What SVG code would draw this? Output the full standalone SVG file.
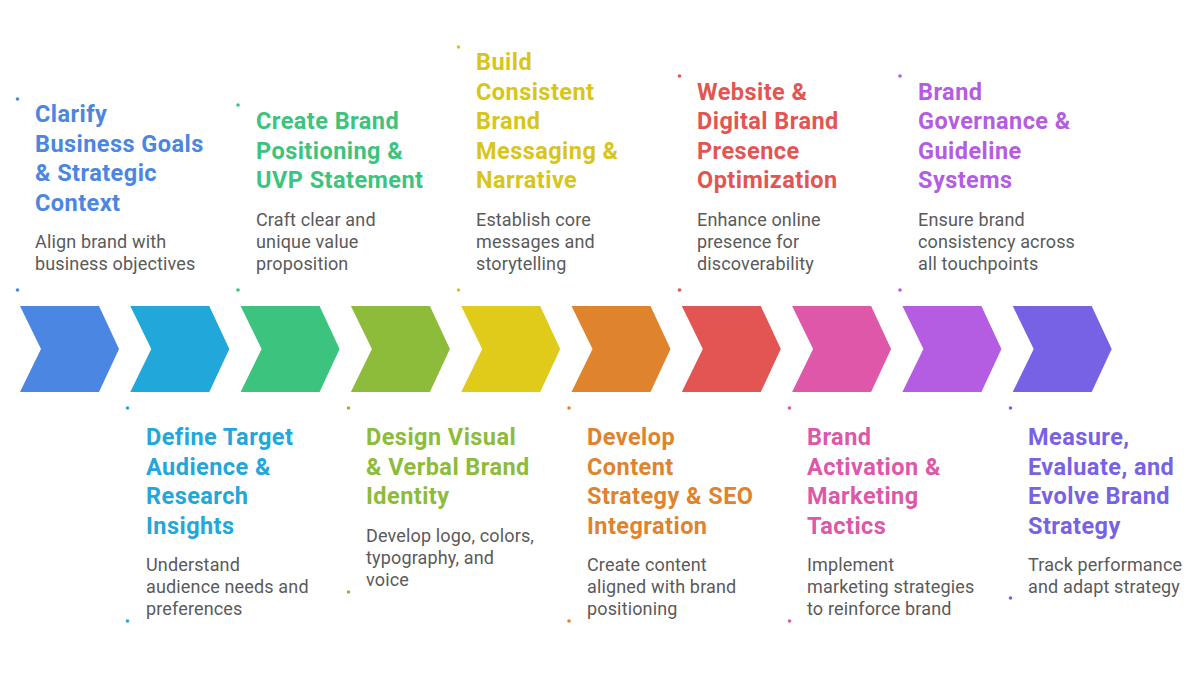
<svg xmlns="http://www.w3.org/2000/svg" width="1200" height="675" viewBox="0 0 1200 675">
<style>
.t{font-family:Roboto,"Liberation Sans",sans-serif;font-weight:700;font-size:23.5px;letter-spacing:0.45px}
.d{font-family:Roboto,"Liberation Sans",sans-serif;font-size:18px;letter-spacing:0.15px;fill:#5a5a5a}
</style>
<defs>
<path id="chev" d="M0,0 H79 L99,43 L79,86 H0 L21,43 Z"/>
</defs>
<rect width="1200" height="675" fill="#fff"/>
<g id="chevrons">
<use href="#chev" x="20" y="306" fill="#4A86E2"/>
<use href="#chev" x="130.3" y="306" fill="#22A7DA"/>
<use href="#chev" x="240.6" y="306" fill="#3CC47F"/>
<use href="#chev" x="350.9" y="306" fill="#8DBB3A"/>
<use href="#chev" x="461.2" y="306" fill="#E0CA1A"/>
<use href="#chev" x="571.5" y="306" fill="#E0832D"/>
<use href="#chev" x="681.8" y="306" fill="#E35553"/>
<use href="#chev" x="792.1" y="306" fill="#DE57A8"/>
<use href="#chev" x="902.4" y="306" fill="#B45CE2"/>
<use href="#chev" x="1012.7" y="306" fill="#7762E6"/>
</g>
<g id="step1" fill="#4A86E2">
<circle cx="17.5" cy="99" r="1.8"/><circle cx="17.5" cy="290" r="1.8"/>
<text class="t" x="35"><tspan x="35" y="122">Clarify</tspan><tspan x="35" y="151.5">Business Goals</tspan><tspan x="35" y="181">&amp; Strategic</tspan><tspan x="35" y="210.5">Context</tspan></text>
<text class="d"><tspan x="35" y="248">Align brand with</tspan><tspan x="35" y="270">business objectives</tspan></text>
</g>
<g id="step2" fill="#22A7DA">
<circle cx="127.5" cy="408" r="1.8"/><circle cx="127.5" cy="621" r="1.8"/>
<text class="t"><tspan x="146" y="445">Define Target</tspan><tspan x="146" y="474.5">Audience &amp;</tspan><tspan x="146" y="504">Research</tspan><tspan x="146" y="533.5">Insights</tspan></text>
<text class="d"><tspan x="146" y="571">Understand</tspan><tspan x="146" y="593">audience needs and</tspan><tspan x="146" y="615">preferences</tspan></text>
</g>
<g id="step3" fill="#3CC47F">
<circle cx="238" cy="105" r="1.8"/><circle cx="238" cy="290" r="1.8"/>
<text class="t"><tspan x="256" y="129">Create Brand</tspan><tspan x="256" y="158.5">Positioning &amp;</tspan><tspan x="256" y="188">UVP Statement</tspan></text>
<text class="d"><tspan x="256" y="226">Craft clear and</tspan><tspan x="256" y="248">unique value</tspan><tspan x="256" y="270">proposition</tspan></text>
</g>
<g id="step4" fill="#8DBB3A">
<circle cx="348.5" cy="408" r="1.8"/><circle cx="348.5" cy="592" r="1.8"/>
<text class="t"><tspan x="366" y="445">Design Visual</tspan><tspan x="366" y="474.5">&amp; Verbal Brand</tspan><tspan x="366" y="504">Identity</tspan></text>
<text class="d"><tspan x="366" y="542">Develop logo, colors,</tspan><tspan x="366" y="564">typography, and</tspan><tspan x="366" y="586">voice</tspan></text>
</g>
<g id="step5" fill="#D9C51A">
<circle cx="458.5" cy="47" r="1.8"/><circle cx="458.5" cy="290" r="1.8"/>
<text class="t"><tspan x="476" y="70">Build</tspan><tspan x="476" y="99.5">Consistent</tspan><tspan x="476" y="129">Brand</tspan><tspan x="476" y="158.5">Messaging &amp;</tspan><tspan x="476" y="188">Narrative</tspan></text>
<text class="d"><tspan x="476" y="226">Establish core</tspan><tspan x="476" y="248">messages and</tspan><tspan x="476" y="270">storytelling</tspan></text>
</g>
<g id="step6" fill="#E0832D">
<circle cx="569" cy="408" r="1.8"/><circle cx="569" cy="621" r="1.8"/>
<text class="t"><tspan x="587" y="445">Develop</tspan><tspan x="587" y="474.5">Content</tspan><tspan x="587" y="504">Strategy &amp; SEO</tspan><tspan x="587" y="533.5">Integration</tspan></text>
<text class="d"><tspan x="587" y="571">Create content</tspan><tspan x="587" y="593">aligned with brand</tspan><tspan x="587" y="615">positioning</tspan></text>
</g>
<g id="step7" fill="#E35553">
<circle cx="679.5" cy="76" r="1.8"/><circle cx="679.5" cy="290" r="1.8"/>
<text class="t"><tspan x="697" y="99.5">Website &amp;</tspan><tspan x="697" y="129">Digital Brand</tspan><tspan x="697" y="158.5">Presence</tspan><tspan x="697" y="188">Optimization</tspan></text>
<text class="d"><tspan x="697" y="226">Enhance online</tspan><tspan x="697" y="248">presence for</tspan><tspan x="697" y="270">discoverability</tspan></text>
</g>
<g id="step8" fill="#DE57A8">
<circle cx="789.5" cy="408" r="1.8"/><circle cx="789.5" cy="621" r="1.8"/>
<text class="t"><tspan x="807" y="445">Brand</tspan><tspan x="807" y="474.5">Activation &amp;</tspan><tspan x="807" y="504">Marketing</tspan><tspan x="807" y="533.5">Tactics</tspan></text>
<text class="d"><tspan x="807" y="571">Implement</tspan><tspan x="807" y="593">marketing strategies</tspan><tspan x="807" y="615">to reinforce brand</tspan></text>
</g>
<g id="step9" fill="#B45CE2">
<circle cx="900" cy="76" r="1.8"/><circle cx="900" cy="290" r="1.8"/>
<text class="t"><tspan x="918" y="99.5">Brand</tspan><tspan x="918" y="129">Governance &amp;</tspan><tspan x="918" y="158.5">Guideline</tspan><tspan x="918" y="188">Systems</tspan></text>
<text class="d"><tspan x="918" y="226">Ensure brand</tspan><tspan x="918" y="248">consistency across</tspan><tspan x="918" y="270">all touchpoints</tspan></text>
</g>
<g id="step10" fill="#7762E6">
<circle cx="1010.5" cy="408" r="1.8"/><circle cx="1010.5" cy="598" r="1.8"/>
<text class="t"><tspan x="1028" y="445">Measure,</tspan><tspan x="1028" y="474.5">Evaluate, and</tspan><tspan x="1028" y="504">Evolve Brand</tspan><tspan x="1028" y="533.5">Strategy</tspan></text>
<text class="d"><tspan x="1028" y="571">Track performance</tspan><tspan x="1028" y="593">and adapt strategy</tspan></text>
</g>
</svg>
